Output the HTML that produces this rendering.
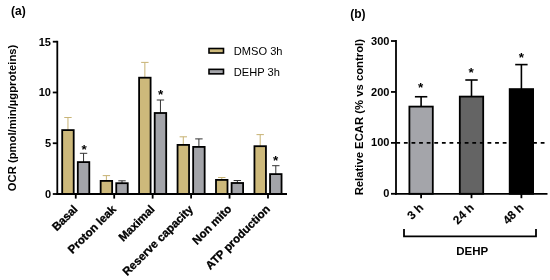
<!DOCTYPE html><html><head><meta charset="utf-8"><style>html,body{margin:0;padding:0;background:#fff;}svg{display:block}</style></head><body>
<svg width="550" height="280" viewBox="0 0 550 280">
<rect width="550" height="280" fill="#fff"/>
<g font-family='"Liberation Sans", Arial, sans-serif' fill="#000">
<text x="11" y="15.3" font-size="12" font-weight="bold">(a)</text>
<line x1="57.3" y1="40.8" x2="57.3" y2="194.9" stroke="#000" stroke-width="1.8"/>
<line x1="52.8" y1="194.00" x2="57.3" y2="194.00" stroke="#000" stroke-width="1.8"/>
<text x="51" y="197.80" font-size="11" font-weight="bold" text-anchor="end">0</text>
<line x1="52.8" y1="143.24" x2="57.3" y2="143.24" stroke="#000" stroke-width="1.8"/>
<text x="51" y="147.04" font-size="11" font-weight="bold" text-anchor="end">5</text>
<line x1="52.8" y1="92.47" x2="57.3" y2="92.47" stroke="#000" stroke-width="1.8"/>
<text x="51" y="96.27" font-size="11" font-weight="bold" text-anchor="end">10</text>
<line x1="52.8" y1="41.70" x2="57.3" y2="41.70" stroke="#000" stroke-width="1.8"/>
<text x="51" y="45.50" font-size="11" font-weight="bold" text-anchor="end">15</text>
<text transform="translate(16.3,117.9) rotate(-90)" font-size="11.25" font-weight="bold" text-anchor="middle">OCR (pmol/min/µgproteins)</text>
<line x1="67.95" y1="117.50" x2="67.95" y2="130.20" stroke="#C9B578" stroke-width="1.05"/>
<line x1="64.25" y1="117.50" x2="71.65" y2="117.50" stroke="#C9B578" stroke-width="1.05"/>
<rect x="62.20" y="130.10" width="11.50" height="63.90" fill="#CDB97B" stroke="#000" stroke-width="1.8"/>
<line x1="83.55" y1="153.30" x2="83.55" y2="162.20" stroke="#333" stroke-width="1.0"/>
<line x1="79.85" y1="153.30" x2="87.25" y2="153.30" stroke="#333" stroke-width="1.0"/>
<rect x="77.80" y="162.10" width="11.50" height="31.90" fill="#A3A4A9" stroke="#000" stroke-width="1.8"/>
<text x="84.15" y="154.05" font-size="13.5" font-weight="bold" text-anchor="middle">*</text>
<line x1="106.40" y1="175.60" x2="106.40" y2="181.00" stroke="#C9B578" stroke-width="1.05"/>
<line x1="102.70" y1="175.60" x2="110.10" y2="175.60" stroke="#C9B578" stroke-width="1.05"/>
<rect x="100.65" y="180.90" width="11.50" height="13.10" fill="#CDB97B" stroke="#000" stroke-width="1.8"/>
<line x1="122.00" y1="180.80" x2="122.00" y2="183.30" stroke="#333" stroke-width="1.0"/>
<line x1="118.30" y1="180.80" x2="125.70" y2="180.80" stroke="#333" stroke-width="1.0"/>
<rect x="116.25" y="183.20" width="11.50" height="10.80" fill="#A3A4A9" stroke="#000" stroke-width="1.8"/>
<line x1="144.85" y1="62.40" x2="144.85" y2="77.80" stroke="#C9B578" stroke-width="1.05"/>
<line x1="141.15" y1="62.40" x2="148.55" y2="62.40" stroke="#C9B578" stroke-width="1.05"/>
<rect x="139.10" y="77.70" width="11.50" height="116.30" fill="#CDB97B" stroke="#000" stroke-width="1.8"/>
<line x1="160.45" y1="100.00" x2="160.45" y2="113.10" stroke="#333" stroke-width="1.0"/>
<line x1="156.75" y1="100.00" x2="164.15" y2="100.00" stroke="#333" stroke-width="1.0"/>
<rect x="154.70" y="113.00" width="11.50" height="81.00" fill="#A3A4A9" stroke="#000" stroke-width="1.8"/>
<text x="160.60" y="99.15" font-size="13.5" font-weight="bold" text-anchor="middle">*</text>
<line x1="183.30" y1="136.80" x2="183.30" y2="145.00" stroke="#C9B578" stroke-width="1.05"/>
<line x1="179.60" y1="136.80" x2="187.00" y2="136.80" stroke="#C9B578" stroke-width="1.05"/>
<rect x="177.55" y="144.90" width="11.50" height="49.10" fill="#CDB97B" stroke="#000" stroke-width="1.8"/>
<line x1="198.90" y1="138.90" x2="198.90" y2="147.00" stroke="#333" stroke-width="1.0"/>
<line x1="195.20" y1="138.90" x2="202.60" y2="138.90" stroke="#333" stroke-width="1.0"/>
<rect x="193.15" y="146.90" width="11.50" height="47.10" fill="#A3A4A9" stroke="#000" stroke-width="1.8"/>
<line x1="221.75" y1="177.50" x2="221.75" y2="180.00" stroke="#C9B578" stroke-width="1.05"/>
<line x1="218.05" y1="177.50" x2="225.45" y2="177.50" stroke="#C9B578" stroke-width="1.05"/>
<rect x="216.00" y="179.90" width="11.50" height="14.10" fill="#CDB97B" stroke="#000" stroke-width="1.8"/>
<line x1="237.35" y1="180.50" x2="237.35" y2="183.10" stroke="#333" stroke-width="1.0"/>
<line x1="233.65" y1="180.50" x2="241.05" y2="180.50" stroke="#333" stroke-width="1.0"/>
<rect x="231.60" y="183.00" width="11.50" height="11.00" fill="#A3A4A9" stroke="#000" stroke-width="1.8"/>
<line x1="260.20" y1="134.60" x2="260.20" y2="146.30" stroke="#C9B578" stroke-width="1.05"/>
<line x1="256.50" y1="134.60" x2="263.90" y2="134.60" stroke="#C9B578" stroke-width="1.05"/>
<rect x="254.45" y="146.20" width="11.50" height="47.80" fill="#CDB97B" stroke="#000" stroke-width="1.8"/>
<line x1="275.80" y1="165.70" x2="275.80" y2="174.20" stroke="#333" stroke-width="1.0"/>
<line x1="272.10" y1="165.70" x2="279.50" y2="165.70" stroke="#333" stroke-width="1.0"/>
<rect x="270.05" y="174.10" width="11.50" height="19.90" fill="#A3A4A9" stroke="#000" stroke-width="1.8"/>
<text x="275.60" y="164.95" font-size="13.5" font-weight="bold" text-anchor="middle">*</text>
<line x1="56.4" y1="194.0" x2="287" y2="194.0" stroke="#000" stroke-width="1.8"/>
<line x1="75.75" y1="194.0" x2="75.75" y2="198.6" stroke="#000" stroke-width="1.8"/>
<text transform="translate(78.35,209.9) rotate(-45)" font-size="11.5" font-weight="bold" text-anchor="end" stroke="#000" stroke-width="0.3">Basal</text>
<line x1="114.20" y1="194.0" x2="114.20" y2="198.6" stroke="#000" stroke-width="1.8"/>
<text transform="translate(116.80,209.9) rotate(-45)" font-size="11.5" font-weight="bold" text-anchor="end" stroke="#000" stroke-width="0.3">Proton leak</text>
<line x1="152.65" y1="194.0" x2="152.65" y2="198.6" stroke="#000" stroke-width="1.8"/>
<text transform="translate(155.25,209.9) rotate(-45)" font-size="11.5" font-weight="bold" text-anchor="end" stroke="#000" stroke-width="0.3">Maximal</text>
<line x1="191.10" y1="194.0" x2="191.10" y2="198.6" stroke="#000" stroke-width="1.8"/>
<text transform="translate(193.70,209.9) rotate(-45)" font-size="11.5" font-weight="bold" text-anchor="end" stroke="#000" stroke-width="0.3">Reserve capacity</text>
<line x1="229.55" y1="194.0" x2="229.55" y2="198.6" stroke="#000" stroke-width="1.8"/>
<text transform="translate(232.15,209.9) rotate(-45)" font-size="11.5" font-weight="bold" text-anchor="end" stroke="#000" stroke-width="0.3">Non mito</text>
<line x1="268.00" y1="194.0" x2="268.00" y2="198.6" stroke="#000" stroke-width="1.8"/>
<text transform="translate(270.60,209.9) rotate(-45)" font-size="11.5" font-weight="bold" text-anchor="end" stroke="#000" stroke-width="0.3">ATP production</text>
<rect x="209" y="48.5" width="14.5" height="4.5" fill="#CDB97B" stroke="#000" stroke-width="1.6"/>
<rect x="209" y="69.35" width="14.5" height="4.5" fill="#A3A4A9" stroke="#000" stroke-width="1.6"/>
<text x="233.8" y="55" font-size="11.1">DMSO 3h</text>
<text x="233.8" y="75.8" font-size="11.1">DEHP 3h</text>
<text x="350.2" y="17.5" font-size="12" font-weight="bold">(b)</text>
<line x1="396" y1="40.1" x2="396" y2="194.7" stroke="#000" stroke-width="1.8"/>
<line x1="391" y1="193.80" x2="396" y2="193.80" stroke="#000" stroke-width="1.8"/>
<text x="389.4" y="197.40" font-size="11" font-weight="bold" text-anchor="end">0</text>
<line x1="391" y1="142.87" x2="396" y2="142.87" stroke="#000" stroke-width="1.8"/>
<text x="389.4" y="146.47" font-size="11" font-weight="bold" text-anchor="end">100</text>
<line x1="391" y1="91.94" x2="396" y2="91.94" stroke="#000" stroke-width="1.8"/>
<text x="389.4" y="95.54" font-size="11" font-weight="bold" text-anchor="end">200</text>
<line x1="391" y1="41.01" x2="396" y2="41.01" stroke="#000" stroke-width="1.8"/>
<text x="389.4" y="44.61" font-size="11" font-weight="bold" text-anchor="end">300</text>
<text transform="translate(363.0,117.2) rotate(-90)" font-size="11.3" font-weight="bold" text-anchor="middle">Relative ECAR (% vs control)</text>
<line x1="421.10" y1="96.75" x2="421.10" y2="106.70" stroke="#000" stroke-width="1.6"/>
<line x1="414.90" y1="96.75" x2="427.30" y2="96.75" stroke="#000" stroke-width="1.6"/>
<rect x="409.40" y="106.60" width="23.40" height="87.20" fill="#A4A5AA" stroke="#000" stroke-width="1.8"/>
<text x="420.60" y="92.00" font-size="13.5" font-weight="bold" text-anchor="middle">*</text>
<line x1="471.50" y1="80.00" x2="471.50" y2="96.70" stroke="#000" stroke-width="1.6"/>
<line x1="465.30" y1="80.00" x2="477.70" y2="80.00" stroke="#000" stroke-width="1.6"/>
<rect x="459.80" y="96.60" width="23.40" height="97.20" fill="#646464" stroke="#000" stroke-width="1.8"/>
<text x="471.20" y="76.95" font-size="13.5" font-weight="bold" text-anchor="middle">*</text>
<line x1="521.40" y1="64.60" x2="521.40" y2="89.20" stroke="#000" stroke-width="1.6"/>
<line x1="515.20" y1="64.60" x2="527.60" y2="64.60" stroke="#000" stroke-width="1.6"/>
<rect x="509.70" y="89.10" width="23.40" height="104.70" fill="#000" stroke="#000" stroke-width="1.8"/>
<text x="521.40" y="61.55" font-size="13.5" font-weight="bold" text-anchor="middle">*</text>
<line x1="396.3" y1="142.87" x2="547" y2="142.87" stroke="#000" stroke-width="1.9" stroke-dasharray="3.8 3.8"/>
<line x1="395.1" y1="193.8" x2="547.5" y2="193.8" stroke="#000" stroke-width="1.8"/>
<line x1="421.10" y1="193.8" x2="421.10" y2="198.2" stroke="#000" stroke-width="1.8"/>
<text transform="translate(424.10,208.3) rotate(-45)" font-size="11.8" font-weight="bold" text-anchor="end" stroke="#000" stroke-width="0.15">3 h</text>
<line x1="471.50" y1="193.8" x2="471.50" y2="198.2" stroke="#000" stroke-width="1.8"/>
<text transform="translate(474.50,208.3) rotate(-45)" font-size="11.8" font-weight="bold" text-anchor="end" stroke="#000" stroke-width="0.15">24 h</text>
<line x1="521.40" y1="193.8" x2="521.40" y2="198.2" stroke="#000" stroke-width="1.8"/>
<text transform="translate(524.40,208.3) rotate(-45)" font-size="11.8" font-weight="bold" text-anchor="end" stroke="#000" stroke-width="0.15">48 h</text>
<polyline points="404,229 404,236.3 536,236.3 536,229" fill="none" stroke="#000" stroke-width="1.8"/>
<text x="472.2" y="255.1" font-size="11.5" font-weight="bold" text-anchor="middle">DEHP</text>
</g></svg></body></html>
